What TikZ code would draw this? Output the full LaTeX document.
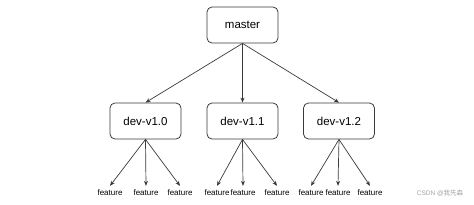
\documentclass[tikz,border=0pt]{standalone}
\usepackage{fontspec}
\setmainfont{Liberation Sans}
\newfontfamily\cjkfont{Noto Sans CJK SC}
\usetikzlibrary{arrows.meta}
\definecolor{line-gray}{HTML}{3A3A3A}
\definecolor{mark-gray}{HTML}{A0A0A0}

\begin{document}
\begin{tikzpicture}[x=1pt, y=-1pt,
    branch/.style={draw=line-gray, line width=0.8pt, rounded corners=5pt, minimum width=71pt,
      minimum height=36pt, inner sep=0pt, font=\fontsize{11.5}{13}\selectfont},
    leaf/.style={inner xsep=1pt, inner ysep=4pt, font=\fontsize{8}{9}\selectfont},
    link/.style={-{Stealth[length=5pt, width=4pt]}, color=line-gray, line width=0.7pt}]
  \useasboundingbox (0,0) rectangle (474,204);
    \node[branch] (master) at (242.5, 25) {master};
    \node[branch] (dev10) at (145.5, 121) {dev-v1.0};
    \node[branch] (dev11) at (242.5, 121) {dev-v1.1};
    \node[branch] (dev12) at (339, 121) {dev-v1.2};
    \draw[link] (master.south) -- (dev10.north);
    \draw[link] (master.south) -- (dev11.north);
    \draw[link] (master.south) -- (dev12.north);
    % features under each dev branch
    \node[leaf] (f10a) at (110, 193) {feature};
    \node[leaf] (f10b) at (146, 193) {feature};
    \node[leaf] (f10c) at (180, 193) {feature};
    \node[leaf] (f11a) at (217, 193) {feature};
    \node[leaf] (f11b) at (243, 193) {feature};
    \node[leaf] (f11c) at (277, 193) {feature};
    \node[leaf] (f12a) at (311, 193) {feature};
    \node[leaf] (f12b) at (338, 193) {feature};
    \node[leaf] (f12c) at (370, 193) {feature};
    \foreach \d/\f in {dev10/f10a, dev10/f10b, dev10/f10c,
        dev11/f11a, dev11/f11b, dev11/f11c,
        dev12/f12a, dev12/f12b, dev12/f12c}
      \draw[link] (\d.south) -- (\f.north);
    \node[text=mark-gray, font=\fontsize{6.5}{8}\selectfont] (mark) at (440, 193)
      {CSDN @{\cjkfont 我先森}};
  \end{tikzpicture}
\end{document}
